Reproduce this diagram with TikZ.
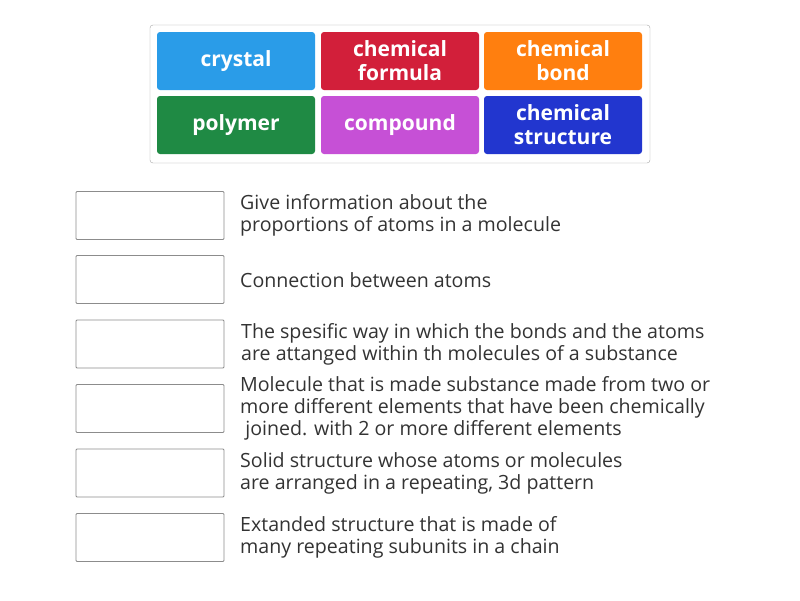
\documentclass[tikz,border=0pt]{standalone}
\usepackage{fontspec}
\setmainfont{Open Sans}
\begin{document}
\begin{tikzpicture}[x=1pt,y=-1pt,
 tile/.style={rounded corners=3pt,text=white,font=\fontsize{21}{24}\selectfont\bfseries,align=center,minimum width=158pt,minimum height=58pt,inner sep=0pt},
 ans/.style={draw=black!45,line width=0.8pt,rounded corners=1pt,minimum width=148pt,minimum height=48pt,inner sep=0pt},
 desc/.style={anchor=west,align=left,text=black!80,font=\fontsize{19.6}{22}\selectfont,inner sep=0pt}]
\useasboundingbox (0,0) rectangle (800,600);
\fill[white] (0,0) rectangle (800,600);
\definecolor{cb}{HTML}{2A9CE8}\definecolor{cr}{HTML}{D21F3A}\definecolor{co}{HTML}{FF7F0F}
\definecolor{cg}{HTML}{1F8A44}\definecolor{cm}{HTML}{C650D6}\definecolor{cd}{HTML}{2236CF}
\node[draw=black!35,rounded corners=3pt,minimum width=500pt,minimum height=138pt,inner sep=0pt] (frame) at (400,94) {};
\node[tile,fill=cb] (t1) at (236,61) {crystal};
\node[tile,fill=cr] (t2) at (400,61) {chemical\\formula};
\node[tile,fill=co] (t3) at (563,61) {chemical\\bond};
\node[tile,fill=cg] (t4) at (236,125) {polymer};
\node[tile,fill=cm] (t5) at (400,125) {compound};
\node[tile,fill=cd] (t6) at (563,125) {chemical\\structure};
\foreach \y/\n in {215.5/1,279.5/2,344/3,408.5/4,473/5,537.5/6}{\node[ans] (a\n) at (150,\y) {};}
\node[desc] (d1) at (240,215) {Give information about the\\proportions of atoms in a molecule};
\node[desc] (d2) at (240,280) {Connection between atoms};
\node[desc] (d3) at (241,344) {The spesific way in which the bonds and the atoms\\are attanged within th molecules of a substance};
\node[desc] (d4) at (240,408) {Molecule that is made substance made from two or\\more different elements that have been chemically\\\ joined. with 2 or more different elements};
\node[desc] (d5) at (240,473) {Solid structure whose atoms or molecules\\are arranged in a repeating, 3d pattern};
\node[desc] (d6) at (240,537) {Extanded structure that is made of\\many repeating subunits in a chain};
\end{tikzpicture}
\end{document}
